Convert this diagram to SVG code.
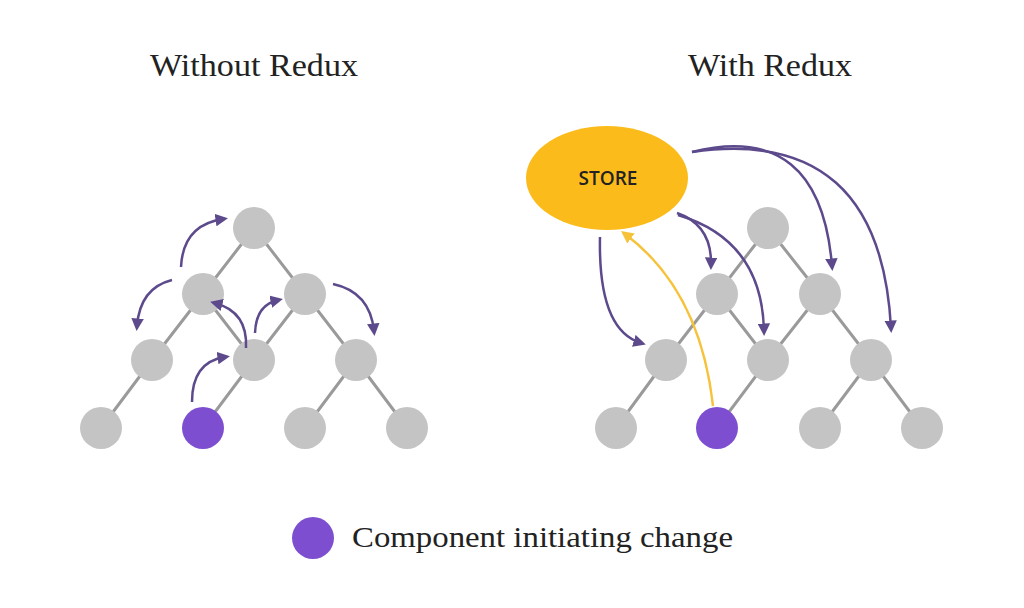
<svg xmlns="http://www.w3.org/2000/svg" width="1024" height="608" viewBox="0 0 1024 608">
<style>
.n{fill:#c4c4c4}.p{fill:#7d4fd0}.e{fill:none;stroke:#9a9a9a;stroke-width:3}
.a{fill:none;stroke:#5c4a8c;stroke-width:2.5;marker-end:url(#ah)}
.y{fill:none;stroke:#f6c23a;stroke-width:2.5;marker-end:url(#ay)}
.t{font-family:"Liberation Serif",serif;fill:#222}
</style>
<defs>
<marker id="ah" viewBox="0 0 10 10" refX="6" refY="5" markerWidth="5" markerHeight="5" orient="auto" markerUnits="strokeWidth"><path d="M0,0L10,5L0,10z" fill="#5c4a8c"/></marker>
<marker id="ay" viewBox="0 0 10 10" refX="6" refY="5" markerWidth="5" markerHeight="5" orient="auto" markerUnits="strokeWidth"><path d="M0,0L10,5L0,10z" fill="#f6c23a"/></marker>
</defs>
<rect width="1024" height="608" fill="#fff"/>
<text class="t" x="150" y="76" font-size="31" textLength="208" lengthAdjust="spacingAndGlyphs">Without Redux</text>
<text class="t" x="688" y="76" font-size="31" textLength="164" lengthAdjust="spacingAndGlyphs">With Redux</text>
<g id="edges">
<path class="e" d="M254,228L203,294L152,360L101,428M203,294L254,360L203,428M254,228L305,294L356,360L305,428M356,360L407,428M305,294L254,360"/>
<path class="e" d="M768,228L717,294L666,360L616,428M717,294L768,360L717,428M768,228L820,294L871,360L820,428M871,360L922,428M820,294L768,360"/>
</g>
<g id="nodes-left">
<circle class="n" cx="254" cy="228" r="21"/><circle class="n" cx="203" cy="294" r="21"/><circle class="n" cx="305" cy="294" r="21"/>
<circle class="n" cx="152" cy="360" r="21"/><circle class="n" cx="254" cy="360" r="21"/><circle class="n" cx="356" cy="360" r="21"/>
<circle class="n" cx="101" cy="428" r="21"/><circle class="p" cx="203" cy="428" r="21"/><circle class="n" cx="305" cy="428" r="21"/><circle class="n" cx="407" cy="428" r="21"/>
</g>
<g id="nodes-right">
<circle class="n" cx="768" cy="228" r="21"/><circle class="n" cx="717" cy="294" r="21"/><circle class="n" cx="820" cy="294" r="21"/>
<circle class="n" cx="666" cy="360" r="21"/><circle class="n" cx="768" cy="360" r="21"/><circle class="n" cx="871" cy="360" r="21"/>
<circle class="n" cx="616" cy="428" r="21"/><circle class="p" cx="717" cy="428" r="21"/><circle class="n" cx="820" cy="428" r="21"/><circle class="n" cx="922" cy="428" r="21"/>
</g>
<g id="store">
<ellipse cx="607" cy="178" rx="81" ry="52" fill="#fbbb1b"/>
<text x="608" y="185" font-family="Open Sans,sans-serif" font-weight="600" font-size="19" text-anchor="middle" fill="#222">STORE</text>
</g>
<g id="connectors">
<path class="a" d="M181,267Q183,225 223,219"/>
<path class="a" d="M172,280Q140,288 137,326"/>
<path class="a" d="M246,348Q248,312 215,303"/>
<path class="a" d="M255,333Q256,305 278,300"/>
<path class="a" d="M333,284Q370,292 374,331"/>
<path class="a" d="M192,402Q192,362 225,357"/>
<path class="a" d="M600,237Q598,330 641,343"/>
<path class="a" d="M677,213Q712,225 711,265"/>
<path class="a" d="M678,215Q762,240 764,331"/>
<path class="a" d="M692,152Q820,120 832,266"/>
<path class="a" d="M692,152Q880,125 891,328"/>
<path class="y" d="M713,406Q700,290 625,234"/>
</g>
<g id="legend">
<circle class="p" cx="313" cy="538" r="21"/>
<text class="t" x="352" y="547" font-size="30" textLength="381" lengthAdjust="spacingAndGlyphs">Component initiating change</text>
</g>
</svg>
